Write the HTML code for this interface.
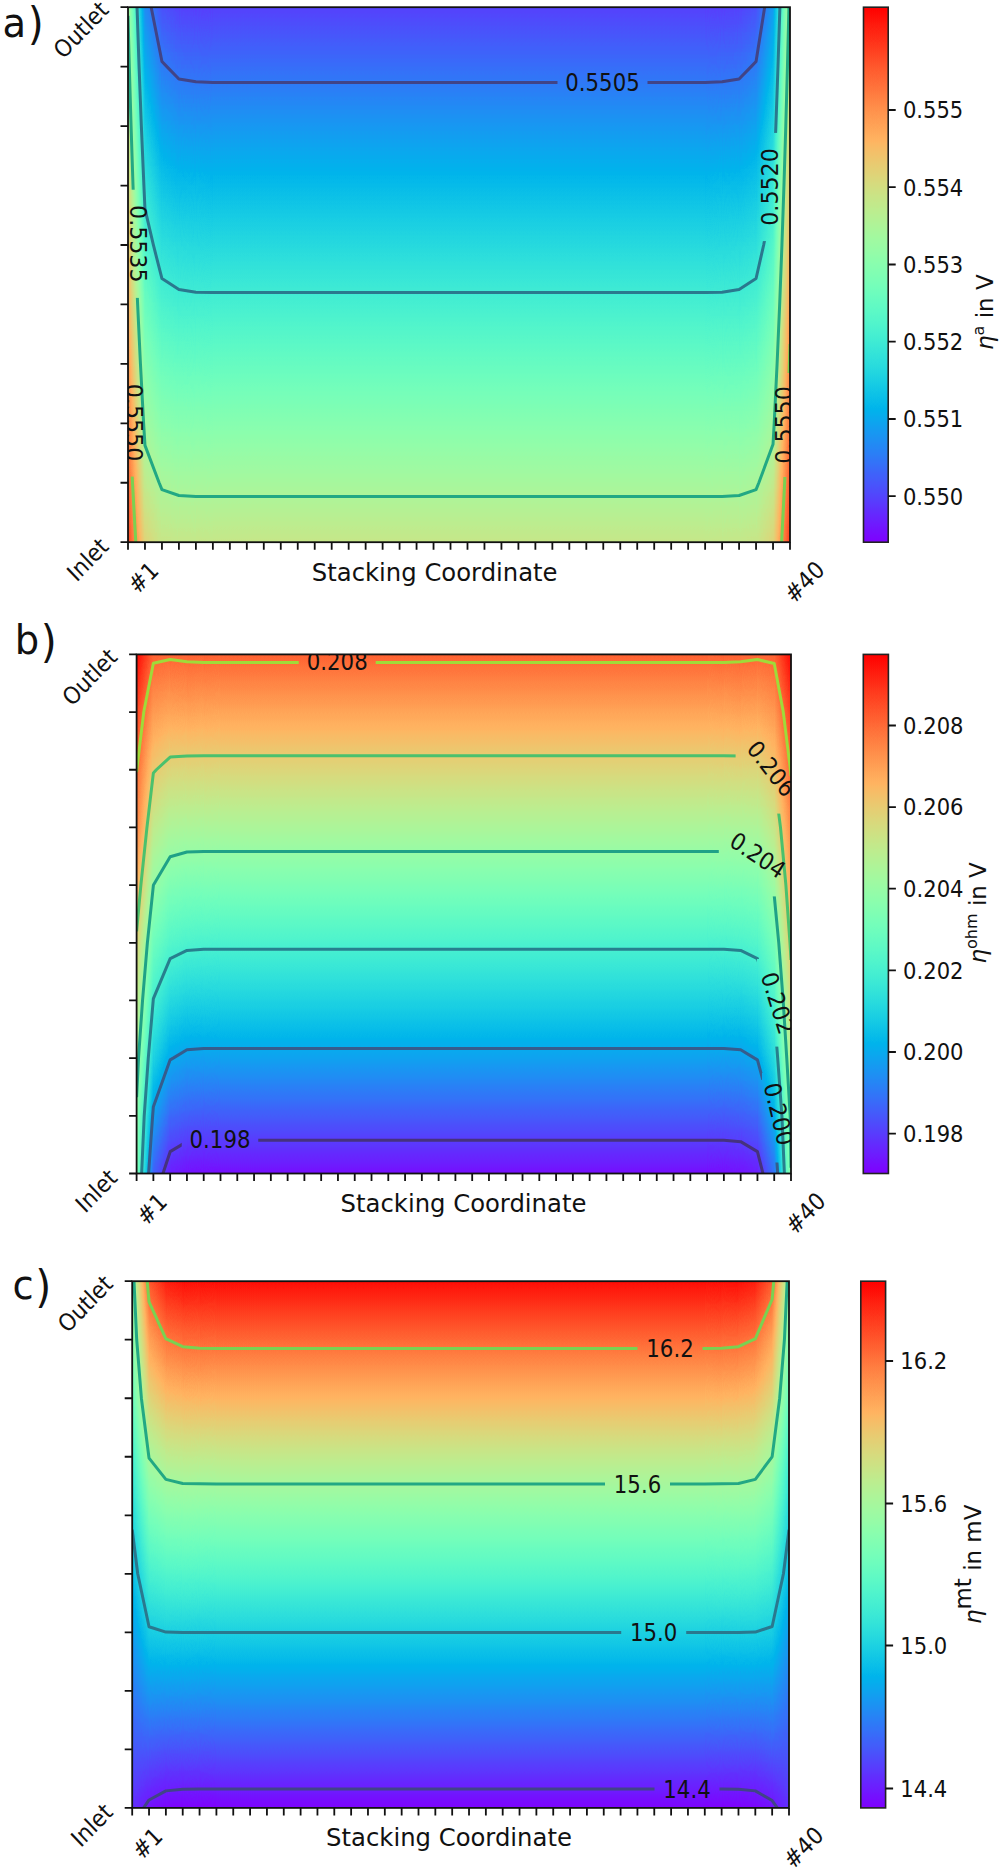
<!DOCTYPE html><html><head><meta charset="utf-8"><title>Overpotential maps</title>
<style>html,body{margin:0;padding:0;background:#fff}svg{display:block}text{font-family:"DejaVu Sans","Liberation Sans",sans-serif;fill:#111}</style></head><body>
<svg width="1000" height="1870" viewBox="0 0 1000 1870">
<defs>
<filter id="rb" filterUnits="userSpaceOnUse" x="0" y="0" width="1000" height="1870" color-interpolation-filters="sRGB"><feComponentTransfer><feFuncR type="table" tableValues="0.5000 0.4688 0.4375 0.4062 0.3750 0.3438 0.3125 0.2812 0.2500 0.2188 0.1875 0.1562 0.1250 0.0938 0.0625 0.0312 0.0000 0.0312 0.0625 0.0938 0.1250 0.1562 0.1875 0.2188 0.2500 0.2812 0.3125 0.3438 0.3750 0.4062 0.4375 0.4688 0.5000 0.5312 0.5625 0.5938 0.6250 0.6562 0.6875 0.7188 0.7500 0.7812 0.8125 0.8438 0.8750 0.9062 0.9375 0.9688 1.0000 1.0000 1.0000 1.0000 1.0000 1.0000 1.0000 1.0000 1.0000 1.0000 1.0000 1.0000 1.0000 1.0000 1.0000 1.0000 1.0000"/><feFuncG type="table" tableValues="0.0000 0.0491 0.0980 0.1467 0.1951 0.2430 0.2903 0.3369 0.3827 0.4276 0.4714 0.5141 0.5556 0.5957 0.6344 0.6716 0.7071 0.7410 0.7730 0.8032 0.8315 0.8577 0.8819 0.9040 0.9239 0.9415 0.9569 0.9700 0.9808 0.9892 0.9952 0.9988 1.0000 0.9988 0.9952 0.9892 0.9808 0.9700 0.9569 0.9415 0.9239 0.9040 0.8819 0.8577 0.8315 0.8032 0.7730 0.7410 0.7071 0.6716 0.6344 0.5957 0.5556 0.5141 0.4714 0.4276 0.3827 0.3369 0.2903 0.2430 0.1951 0.1467 0.0980 0.0491 0.0000"/><feFuncB type="table" tableValues="1.0000 0.9997 0.9988 0.9973 0.9952 0.9925 0.9892 0.9853 0.9808 0.9757 0.9700 0.9638 0.9569 0.9495 0.9415 0.9330 0.9239 0.9142 0.9040 0.8932 0.8819 0.8701 0.8577 0.8449 0.8315 0.8176 0.8032 0.7883 0.7730 0.7572 0.7410 0.7242 0.7071 0.6895 0.6716 0.6532 0.6344 0.6152 0.5957 0.5758 0.5556 0.5350 0.5141 0.4929 0.4714 0.4496 0.4276 0.4052 0.3827 0.3599 0.3369 0.3137 0.2903 0.2667 0.2430 0.2191 0.1951 0.1710 0.1467 0.1224 0.0980 0.0736 0.0491 0.0245 0.0000"/></feComponentTransfer></filter>
<linearGradient id="cbg" x1="0" y1="0" x2="0" y2="1"><stop offset="0" stop-color="#fff"/><stop offset="1" stop-color="#000"/></linearGradient>
<linearGradient id="rampL" x1="0" y1="0" x2="1" y2="0"><stop offset="0" stop-color="#fff" stop-opacity="1"/><stop offset="1" stop-color="#fff" stop-opacity="0"/></linearGradient>
<linearGradient id="ac" x1="0" y1="0" x2="0" y2="1"><stop offset="0%" stop-color="#151515"/><stop offset="11.11%" stop-color="#242424"/><stop offset="22.22%" stop-color="#343434"/><stop offset="33.33%" stop-color="#434343"/><stop offset="44.44%" stop-color="#535353"/><stop offset="55.56%" stop-color="#636363"/><stop offset="66.67%" stop-color="#737373"/><stop offset="77.78%" stop-color="#838383"/><stop offset="88.89%" stop-color="#939393"/><stop offset="100%" stop-color="#a3a3a3"/></linearGradient>
<linearGradient id="al4" x1="0" y1="0" x2="0" y2="1"><stop offset="0%" stop-color="#151515"/><stop offset="11.11%" stop-color="#242424"/><stop offset="22.22%" stop-color="#343434"/><stop offset="33.33%" stop-color="#444444"/><stop offset="44.44%" stop-color="#535353"/><stop offset="55.56%" stop-color="#636363"/><stop offset="66.67%" stop-color="#737373"/><stop offset="77.78%" stop-color="#838383"/><stop offset="88.89%" stop-color="#939393"/><stop offset="100%" stop-color="#a3a3a3"/></linearGradient>
<linearGradient id="aml4g" gradientUnits="userSpaceOnUse" x1="195.9" y1="0" x2="212.87" y2="0"><stop offset="0" stop-color="#fff" stop-opacity="1"/><stop offset="1" stop-color="#fff" stop-opacity="0"/></linearGradient>
<mask id="aml4" maskUnits="userSpaceOnUse" x="127" y="6.2" width="86.87" height="537"><rect x="127" y="6.2" width="86.87" height="537" fill="url(#aml4g)"/></mask>
<linearGradient id="al3" x1="0" y1="0" x2="0" y2="1"><stop offset="0%" stop-color="#161616"/><stop offset="11.11%" stop-color="#252525"/><stop offset="22.22%" stop-color="#353535"/><stop offset="33.33%" stop-color="#444444"/><stop offset="44.44%" stop-color="#545454"/><stop offset="55.56%" stop-color="#636363"/><stop offset="66.67%" stop-color="#737373"/><stop offset="77.78%" stop-color="#838383"/><stop offset="88.89%" stop-color="#939393"/><stop offset="100%" stop-color="#a3a3a3"/></linearGradient>
<linearGradient id="aml3g" gradientUnits="userSpaceOnUse" x1="178.92" y1="0" x2="195.9" y2="0"><stop offset="0" stop-color="#fff" stop-opacity="1"/><stop offset="1" stop-color="#fff" stop-opacity="0"/></linearGradient>
<mask id="aml3" maskUnits="userSpaceOnUse" x="127" y="6.2" width="69.9" height="537"><rect x="127" y="6.2" width="69.9" height="537" fill="url(#aml3g)"/></mask>
<linearGradient id="al2" x1="0" y1="0" x2="0" y2="1"><stop offset="0%" stop-color="#1b1b1b"/><stop offset="11.11%" stop-color="#2a2a2a"/><stop offset="22.22%" stop-color="#393939"/><stop offset="33.33%" stop-color="#484848"/><stop offset="44.44%" stop-color="#575757"/><stop offset="55.56%" stop-color="#666666"/><stop offset="66.67%" stop-color="#767676"/><stop offset="77.78%" stop-color="#858585"/><stop offset="88.89%" stop-color="#959595"/><stop offset="100%" stop-color="#a4a4a4"/></linearGradient>
<linearGradient id="aml2g" gradientUnits="userSpaceOnUse" x1="161.95" y1="0" x2="178.92" y2="0"><stop offset="0" stop-color="#fff" stop-opacity="1"/><stop offset="1" stop-color="#fff" stop-opacity="0"/></linearGradient>
<mask id="aml2" maskUnits="userSpaceOnUse" x="127" y="6.2" width="52.92" height="537"><rect x="127" y="6.2" width="52.92" height="537" fill="url(#aml2g)"/></mask>
<linearGradient id="al1" x1="0" y1="0" x2="0" y2="1"><stop offset="0%" stop-color="#303030"/><stop offset="11.11%" stop-color="#3e3e3e"/><stop offset="22.22%" stop-color="#4c4c4c"/><stop offset="33.33%" stop-color="#5a5a5a"/><stop offset="44.44%" stop-color="#686868"/><stop offset="55.56%" stop-color="#767676"/><stop offset="66.67%" stop-color="#838383"/><stop offset="77.78%" stop-color="#919191"/><stop offset="88.89%" stop-color="#a0a0a0"/><stop offset="100%" stop-color="#afafaf"/></linearGradient>
<linearGradient id="aml1g" gradientUnits="userSpaceOnUse" x1="144.97" y1="0" x2="161.95" y2="0"><stop offset="0" stop-color="#fff" stop-opacity="1"/><stop offset="1" stop-color="#fff" stop-opacity="0"/></linearGradient>
<mask id="aml1" maskUnits="userSpaceOnUse" x="127" y="6.2" width="35.95" height="537"><rect x="127" y="6.2" width="35.95" height="537" fill="url(#aml1g)"/></mask>
<linearGradient id="al0" x1="0" y1="0" x2="0" y2="1"><stop offset="0%" stop-color="#959595"/><stop offset="11.11%" stop-color="#9e9e9e"/><stop offset="22.22%" stop-color="#a7a7a7"/><stop offset="33.33%" stop-color="#b0b0b0"/><stop offset="44.44%" stop-color="#b9b9b9"/><stop offset="55.56%" stop-color="#c2c2c2"/><stop offset="66.67%" stop-color="#cbcbcb"/><stop offset="77.78%" stop-color="#d5d5d5"/><stop offset="88.89%" stop-color="#dedede"/><stop offset="100%" stop-color="#e8e8e8"/></linearGradient>
<linearGradient id="aml0g" gradientUnits="userSpaceOnUse" x1="128" y1="0" x2="144.97" y2="0"><stop offset="0" stop-color="#fff" stop-opacity="1"/><stop offset="1" stop-color="#fff" stop-opacity="0"/></linearGradient>
<mask id="aml0" maskUnits="userSpaceOnUse" x="127" y="6.2" width="18.97" height="537"><rect x="127" y="6.2" width="18.97" height="537" fill="url(#aml0g)"/></mask>
<linearGradient id="ar4" x1="0" y1="0" x2="0" y2="1"><stop offset="0%" stop-color="#151515"/><stop offset="11.11%" stop-color="#242424"/><stop offset="22.22%" stop-color="#343434"/><stop offset="33.33%" stop-color="#444444"/><stop offset="44.44%" stop-color="#535353"/><stop offset="55.56%" stop-color="#636363"/><stop offset="66.67%" stop-color="#737373"/><stop offset="77.78%" stop-color="#838383"/><stop offset="88.89%" stop-color="#939393"/><stop offset="100%" stop-color="#a3a3a3"/></linearGradient>
<linearGradient id="amr4g" gradientUnits="userSpaceOnUse" x1="722.1" y1="0" x2="705.13" y2="0"><stop offset="0" stop-color="#fff" stop-opacity="1"/><stop offset="1" stop-color="#fff" stop-opacity="0"/></linearGradient>
<mask id="amr4" maskUnits="userSpaceOnUse" x="704.13" y="6.2" width="86.87" height="537"><rect x="704.13" y="6.2" width="86.87" height="537" fill="url(#amr4g)"/></mask>
<linearGradient id="ar3" x1="0" y1="0" x2="0" y2="1"><stop offset="0%" stop-color="#161616"/><stop offset="11.11%" stop-color="#252525"/><stop offset="22.22%" stop-color="#353535"/><stop offset="33.33%" stop-color="#444444"/><stop offset="44.44%" stop-color="#545454"/><stop offset="55.56%" stop-color="#636363"/><stop offset="66.67%" stop-color="#737373"/><stop offset="77.78%" stop-color="#838383"/><stop offset="88.89%" stop-color="#939393"/><stop offset="100%" stop-color="#a3a3a3"/></linearGradient>
<linearGradient id="amr3g" gradientUnits="userSpaceOnUse" x1="739.08" y1="0" x2="722.1" y2="0"><stop offset="0" stop-color="#fff" stop-opacity="1"/><stop offset="1" stop-color="#fff" stop-opacity="0"/></linearGradient>
<mask id="amr3" maskUnits="userSpaceOnUse" x="721.1" y="6.2" width="69.9" height="537"><rect x="721.1" y="6.2" width="69.9" height="537" fill="url(#amr3g)"/></mask>
<linearGradient id="ar2" x1="0" y1="0" x2="0" y2="1"><stop offset="0%" stop-color="#1b1b1b"/><stop offset="11.11%" stop-color="#2a2a2a"/><stop offset="22.22%" stop-color="#393939"/><stop offset="33.33%" stop-color="#484848"/><stop offset="44.44%" stop-color="#575757"/><stop offset="55.56%" stop-color="#666666"/><stop offset="66.67%" stop-color="#767676"/><stop offset="77.78%" stop-color="#858585"/><stop offset="88.89%" stop-color="#959595"/><stop offset="100%" stop-color="#a4a4a4"/></linearGradient>
<linearGradient id="amr2g" gradientUnits="userSpaceOnUse" x1="756.05" y1="0" x2="739.08" y2="0"><stop offset="0" stop-color="#fff" stop-opacity="1"/><stop offset="1" stop-color="#fff" stop-opacity="0"/></linearGradient>
<mask id="amr2" maskUnits="userSpaceOnUse" x="738.08" y="6.2" width="52.92" height="537"><rect x="738.08" y="6.2" width="52.92" height="537" fill="url(#amr2g)"/></mask>
<linearGradient id="ar1" x1="0" y1="0" x2="0" y2="1"><stop offset="0%" stop-color="#363636"/><stop offset="11.11%" stop-color="#434343"/><stop offset="22.22%" stop-color="#505050"/><stop offset="33.33%" stop-color="#5d5d5d"/><stop offset="44.44%" stop-color="#6a6a6a"/><stop offset="55.56%" stop-color="#777777"/><stop offset="66.67%" stop-color="#848484"/><stop offset="77.78%" stop-color="#929292"/><stop offset="88.89%" stop-color="#a0a0a0"/><stop offset="100%" stop-color="#afafaf"/></linearGradient>
<linearGradient id="amr1g" gradientUnits="userSpaceOnUse" x1="773.03" y1="0" x2="756.05" y2="0"><stop offset="0" stop-color="#fff" stop-opacity="1"/><stop offset="1" stop-color="#fff" stop-opacity="0"/></linearGradient>
<mask id="amr1" maskUnits="userSpaceOnUse" x="755.05" y="6.2" width="35.95" height="537"><rect x="755.05" y="6.2" width="35.95" height="537" fill="url(#amr1g)"/></mask>
<linearGradient id="ar0" x1="0" y1="0" x2="0" y2="1"><stop offset="0%" stop-color="#9d9d9d"/><stop offset="11.11%" stop-color="#a6a6a6"/><stop offset="22.22%" stop-color="#aeaeae"/><stop offset="33.33%" stop-color="#b7b7b7"/><stop offset="44.44%" stop-color="#bfbfbf"/><stop offset="55.56%" stop-color="#c8c8c8"/><stop offset="66.67%" stop-color="#d1d1d1"/><stop offset="77.78%" stop-color="#dadada"/><stop offset="88.89%" stop-color="#e3e3e3"/><stop offset="100%" stop-color="#ececec"/></linearGradient>
<linearGradient id="amr0g" gradientUnits="userSpaceOnUse" x1="790" y1="0" x2="773.03" y2="0"><stop offset="0" stop-color="#fff" stop-opacity="1"/><stop offset="1" stop-color="#fff" stop-opacity="0"/></linearGradient>
<mask id="amr0" maskUnits="userSpaceOnUse" x="772.03" y="6.2" width="18.97" height="537"><rect x="772.03" y="6.2" width="18.97" height="537" fill="url(#amr0g)"/></mask>
<clipPath id="acp"><rect x="128" y="7.2" width="662" height="535"/></clipPath>
<mask id="alm0" maskUnits="userSpaceOnUse" x="123" y="2.2" width="672" height="545"><rect x="123" y="2.2" width="672" height="545" fill="#fff"/><rect x="-45" y="-12" width="90" height="24" transform="translate(602.5 82.5) scale(1 1.04) rotate(0)" fill="#000"/></mask>
<mask id="alm1" maskUnits="userSpaceOnUse" x="123" y="2.2" width="672" height="545"><rect x="123" y="2.2" width="672" height="545" fill="#fff"/><rect x="-52" y="-12" width="104" height="24" transform="translate(770 187) scale(1 1.04) rotate(-90)" fill="#000"/></mask>
<mask id="alm2" maskUnits="userSpaceOnUse" x="123" y="2.2" width="672" height="545"><rect x="123" y="2.2" width="672" height="545" fill="#fff"/><rect x="-52" y="-12" width="104" height="24" transform="translate(138.5 243.8) scale(1 1.04) rotate(90)" fill="#000"/></mask>
<mask id="alm3" maskUnits="userSpaceOnUse" x="123" y="2.2" width="672" height="545"><rect x="123" y="2.2" width="672" height="545" fill="#fff"/><rect x="-52" y="-12" width="104" height="24" transform="translate(134.5 422.5) scale(1 1.04) rotate(90)" fill="#000"/><rect x="-50" y="-12" width="100" height="24" transform="translate(783.6 425) scale(1 1.04) rotate(-90)" fill="#000"/></mask>
<linearGradient id="bc" x1="0" y1="0" x2="0" y2="1"><stop offset="0%" stop-color="#dfdfdf"/><stop offset="11.11%" stop-color="#c6c6c6"/><stop offset="22.22%" stop-color="#aeaeae"/><stop offset="33.33%" stop-color="#969696"/><stop offset="44.44%" stop-color="#7e7e7e"/><stop offset="55.56%" stop-color="#666666"/><stop offset="66.67%" stop-color="#4f4f4f"/><stop offset="77.78%" stop-color="#383838"/><stop offset="88.89%" stop-color="#1e1e1e"/><stop offset="100%" stop-color="#050505"/></linearGradient>
<linearGradient id="bl4" x1="0" y1="0" x2="0" y2="1"><stop offset="0%" stop-color="#dfdfdf"/><stop offset="11.11%" stop-color="#c6c6c6"/><stop offset="22.22%" stop-color="#aeaeae"/><stop offset="33.33%" stop-color="#969696"/><stop offset="44.44%" stop-color="#7e7e7e"/><stop offset="55.56%" stop-color="#666666"/><stop offset="66.67%" stop-color="#4f4f4f"/><stop offset="77.78%" stop-color="#383838"/><stop offset="88.89%" stop-color="#1e1e1e"/><stop offset="100%" stop-color="#050505"/></linearGradient>
<linearGradient id="bml4g" gradientUnits="userSpaceOnUse" x1="203.72" y1="0" x2="220.5" y2="0"><stop offset="0" stop-color="#fff" stop-opacity="1"/><stop offset="1" stop-color="#fff" stop-opacity="0"/></linearGradient>
<mask id="bml4" maskUnits="userSpaceOnUse" x="135.6" y="653.4" width="85.9" height="521.1"><rect x="135.6" y="653.4" width="85.9" height="521.1" fill="url(#bml4g)"/></mask>
<linearGradient id="bl3" x1="0" y1="0" x2="0" y2="1"><stop offset="0%" stop-color="#dfdfdf"/><stop offset="11.11%" stop-color="#c7c7c7"/><stop offset="22.22%" stop-color="#aeaeae"/><stop offset="33.33%" stop-color="#969696"/><stop offset="44.44%" stop-color="#7e7e7e"/><stop offset="55.56%" stop-color="#676767"/><stop offset="66.67%" stop-color="#4f4f4f"/><stop offset="77.78%" stop-color="#383838"/><stop offset="88.89%" stop-color="#1f1f1f"/><stop offset="100%" stop-color="#060606"/></linearGradient>
<linearGradient id="bml3g" gradientUnits="userSpaceOnUse" x1="186.94" y1="0" x2="203.72" y2="0"><stop offset="0" stop-color="#fff" stop-opacity="1"/><stop offset="1" stop-color="#fff" stop-opacity="0"/></linearGradient>
<mask id="bml3" maskUnits="userSpaceOnUse" x="135.6" y="653.4" width="69.12" height="521.1"><rect x="135.6" y="653.4" width="69.12" height="521.1" fill="url(#bml3g)"/></mask>
<linearGradient id="bl2" x1="0" y1="0" x2="0" y2="1"><stop offset="0%" stop-color="#dedede"/><stop offset="11.11%" stop-color="#c6c6c6"/><stop offset="22.22%" stop-color="#aeaeae"/><stop offset="33.33%" stop-color="#979797"/><stop offset="44.44%" stop-color="#808080"/><stop offset="55.56%" stop-color="#6a6a6a"/><stop offset="66.67%" stop-color="#535353"/><stop offset="77.78%" stop-color="#3c3c3c"/><stop offset="88.89%" stop-color="#232323"/><stop offset="100%" stop-color="#0a0a0a"/></linearGradient>
<linearGradient id="bml2g" gradientUnits="userSpaceOnUse" x1="170.16" y1="0" x2="186.94" y2="0"><stop offset="0" stop-color="#fff" stop-opacity="1"/><stop offset="1" stop-color="#fff" stop-opacity="0"/></linearGradient>
<mask id="bml2" maskUnits="userSpaceOnUse" x="135.6" y="653.4" width="52.34" height="521.1"><rect x="135.6" y="653.4" width="52.34" height="521.1" fill="url(#bml2g)"/></mask>
<linearGradient id="bl1" x1="0" y1="0" x2="0" y2="1"><stop offset="0%" stop-color="#dfdfdf"/><stop offset="11.11%" stop-color="#cacaca"/><stop offset="22.22%" stop-color="#b5b5b5"/><stop offset="33.33%" stop-color="#a0a0a0"/><stop offset="44.44%" stop-color="#8c8c8c"/><stop offset="55.56%" stop-color="#777777"/><stop offset="66.67%" stop-color="#636363"/><stop offset="77.78%" stop-color="#4f4f4f"/><stop offset="88.89%" stop-color="#383838"/><stop offset="100%" stop-color="#202020"/></linearGradient>
<linearGradient id="bml1g" gradientUnits="userSpaceOnUse" x1="153.38" y1="0" x2="170.16" y2="0"><stop offset="0" stop-color="#fff" stop-opacity="1"/><stop offset="1" stop-color="#fff" stop-opacity="0"/></linearGradient>
<mask id="bml1" maskUnits="userSpaceOnUse" x="135.6" y="653.4" width="35.56" height="521.1"><rect x="135.6" y="653.4" width="35.56" height="521.1" fill="url(#bml1g)"/></mask>
<linearGradient id="bl0" x1="0" y1="0" x2="0" y2="1"><stop offset="0%" stop-color="#fdfdfd"/><stop offset="11.11%" stop-color="#e9e9e9"/><stop offset="22.22%" stop-color="#dcdcdc"/><stop offset="33.33%" stop-color="#d3d3d3"/><stop offset="44.44%" stop-color="#c1c1c1"/><stop offset="55.56%" stop-color="#b0b0b0"/><stop offset="66.67%" stop-color="#a2a2a2"/><stop offset="77.78%" stop-color="#949494"/><stop offset="88.89%" stop-color="#888888"/><stop offset="100%" stop-color="#818181"/></linearGradient>
<linearGradient id="bml0g" gradientUnits="userSpaceOnUse" x1="136.6" y1="0" x2="153.38" y2="0"><stop offset="0" stop-color="#fff" stop-opacity="1"/><stop offset="1" stop-color="#fff" stop-opacity="0"/></linearGradient>
<mask id="bml0" maskUnits="userSpaceOnUse" x="135.6" y="653.4" width="18.78" height="521.1"><rect x="135.6" y="653.4" width="18.78" height="521.1" fill="url(#bml0g)"/></mask>
<linearGradient id="br4" x1="0" y1="0" x2="0" y2="1"><stop offset="0%" stop-color="#dfdfdf"/><stop offset="11.11%" stop-color="#c6c6c6"/><stop offset="22.22%" stop-color="#aeaeae"/><stop offset="33.33%" stop-color="#969696"/><stop offset="44.44%" stop-color="#7e7e7e"/><stop offset="55.56%" stop-color="#666666"/><stop offset="66.67%" stop-color="#4f4f4f"/><stop offset="77.78%" stop-color="#383838"/><stop offset="88.89%" stop-color="#1e1e1e"/><stop offset="100%" stop-color="#050505"/></linearGradient>
<linearGradient id="bmr4g" gradientUnits="userSpaceOnUse" x1="723.88" y1="0" x2="707.1" y2="0"><stop offset="0" stop-color="#fff" stop-opacity="1"/><stop offset="1" stop-color="#fff" stop-opacity="0"/></linearGradient>
<mask id="bmr4" maskUnits="userSpaceOnUse" x="706.1" y="653.4" width="85.9" height="521.1"><rect x="706.1" y="653.4" width="85.9" height="521.1" fill="url(#bmr4g)"/></mask>
<linearGradient id="br3" x1="0" y1="0" x2="0" y2="1"><stop offset="0%" stop-color="#dfdfdf"/><stop offset="11.11%" stop-color="#c7c7c7"/><stop offset="22.22%" stop-color="#aeaeae"/><stop offset="33.33%" stop-color="#969696"/><stop offset="44.44%" stop-color="#7e7e7e"/><stop offset="55.56%" stop-color="#676767"/><stop offset="66.67%" stop-color="#4f4f4f"/><stop offset="77.78%" stop-color="#383838"/><stop offset="88.89%" stop-color="#1f1f1f"/><stop offset="100%" stop-color="#060606"/></linearGradient>
<linearGradient id="bmr3g" gradientUnits="userSpaceOnUse" x1="740.66" y1="0" x2="723.88" y2="0"><stop offset="0" stop-color="#fff" stop-opacity="1"/><stop offset="1" stop-color="#fff" stop-opacity="0"/></linearGradient>
<mask id="bmr3" maskUnits="userSpaceOnUse" x="722.88" y="653.4" width="69.12" height="521.1"><rect x="722.88" y="653.4" width="69.12" height="521.1" fill="url(#bmr3g)"/></mask>
<linearGradient id="br2" x1="0" y1="0" x2="0" y2="1"><stop offset="0%" stop-color="#dedede"/><stop offset="11.11%" stop-color="#c6c6c6"/><stop offset="22.22%" stop-color="#aeaeae"/><stop offset="33.33%" stop-color="#979797"/><stop offset="44.44%" stop-color="#808080"/><stop offset="55.56%" stop-color="#6a6a6a"/><stop offset="66.67%" stop-color="#535353"/><stop offset="77.78%" stop-color="#3c3c3c"/><stop offset="88.89%" stop-color="#232323"/><stop offset="100%" stop-color="#0a0a0a"/></linearGradient>
<linearGradient id="bmr2g" gradientUnits="userSpaceOnUse" x1="757.44" y1="0" x2="740.66" y2="0"><stop offset="0" stop-color="#fff" stop-opacity="1"/><stop offset="1" stop-color="#fff" stop-opacity="0"/></linearGradient>
<mask id="bmr2" maskUnits="userSpaceOnUse" x="739.66" y="653.4" width="52.34" height="521.1"><rect x="739.66" y="653.4" width="52.34" height="521.1" fill="url(#bmr2g)"/></mask>
<linearGradient id="br1" x1="0" y1="0" x2="0" y2="1"><stop offset="0%" stop-color="#dfdfdf"/><stop offset="11.11%" stop-color="#cbcbcb"/><stop offset="22.22%" stop-color="#b7b7b7"/><stop offset="33.33%" stop-color="#a3a3a3"/><stop offset="44.44%" stop-color="#8f8f8f"/><stop offset="55.56%" stop-color="#7b7b7b"/><stop offset="66.67%" stop-color="#686868"/><stop offset="77.78%" stop-color="#545454"/><stop offset="88.89%" stop-color="#3e3e3e"/><stop offset="100%" stop-color="#272727"/></linearGradient>
<linearGradient id="bmr1g" gradientUnits="userSpaceOnUse" x1="774.22" y1="0" x2="757.44" y2="0"><stop offset="0" stop-color="#fff" stop-opacity="1"/><stop offset="1" stop-color="#fff" stop-opacity="0"/></linearGradient>
<mask id="bmr1" maskUnits="userSpaceOnUse" x="756.44" y="653.4" width="35.56" height="521.1"><rect x="756.44" y="653.4" width="35.56" height="521.1" fill="url(#bmr1g)"/></mask>
<linearGradient id="br0" x1="0" y1="0" x2="0" y2="1"><stop offset="0%" stop-color="#fdfdfd"/><stop offset="11.11%" stop-color="#ebebeb"/><stop offset="22.22%" stop-color="#dddddd"/><stop offset="33.33%" stop-color="#d0d0d0"/><stop offset="44.44%" stop-color="#c4c4c4"/><stop offset="55.56%" stop-color="#b7b7b7"/><stop offset="66.67%" stop-color="#ababab"/><stop offset="77.78%" stop-color="#9e9e9e"/><stop offset="88.89%" stop-color="#909090"/><stop offset="100%" stop-color="#8b8b8b"/></linearGradient>
<linearGradient id="bmr0g" gradientUnits="userSpaceOnUse" x1="791" y1="0" x2="774.22" y2="0"><stop offset="0" stop-color="#fff" stop-opacity="1"/><stop offset="1" stop-color="#fff" stop-opacity="0"/></linearGradient>
<mask id="bmr0" maskUnits="userSpaceOnUse" x="773.22" y="653.4" width="18.78" height="521.1"><rect x="773.22" y="653.4" width="18.78" height="521.1" fill="url(#bmr0g)"/></mask>
<clipPath id="bcp"><rect x="136.6" y="654.4" width="654.4" height="519.1"/></clipPath>
<mask id="blm0" maskUnits="userSpaceOnUse" x="131.6" y="649.4" width="664.4" height="529.1"><rect x="131.6" y="649.4" width="664.4" height="529.1" fill="#fff"/><rect x="-38.25" y="-12" width="76.5" height="24" transform="translate(220 1139) scale(1 1.04) rotate(0)" fill="#000"/></mask>
<mask id="blm1" maskUnits="userSpaceOnUse" x="131.6" y="649.4" width="664.4" height="529.1"><rect x="131.6" y="649.4" width="664.4" height="529.1" fill="#fff"/><rect x="-36" y="-12" width="72" height="24" transform="translate(779 1114) scale(1 1.04) rotate(76)" fill="#000"/><rect x="762" y="1073" width="31" height="89.5" fill="#000"/></mask>
<mask id="blm2" maskUnits="userSpaceOnUse" x="131.6" y="649.4" width="664.4" height="529.1"><rect x="131.6" y="649.4" width="664.4" height="529.1" fill="#fff"/><rect x="-36" y="-12" width="72" height="24" transform="translate(778 1003) scale(1 1.04) rotate(72)" fill="#000"/><rect x="757" y="959" width="36" height="87.6" fill="#000"/></mask>
<mask id="blm3" maskUnits="userSpaceOnUse" x="131.6" y="649.4" width="664.4" height="529.1"><rect x="131.6" y="649.4" width="664.4" height="529.1" fill="#fff"/><rect x="-36" y="-12" width="72" height="24" transform="translate(758 855) scale(1 1.04) rotate(33)" fill="#000"/><rect x="718.8" y="835" width="74.2" height="61.4" fill="#000"/></mask>
<mask id="blm4" maskUnits="userSpaceOnUse" x="131.6" y="649.4" width="664.4" height="529.1"><rect x="131.6" y="649.4" width="664.4" height="529.1" fill="#fff"/><rect x="-35" y="-12" width="70" height="24" transform="translate(771.5 768.5) scale(1 1.04) rotate(51)" fill="#000"/><rect x="735.6" y="745" width="57.4" height="68.6" fill="#000"/></mask>
<mask id="blm5" maskUnits="userSpaceOnUse" x="131.6" y="649.4" width="664.4" height="529.1"><rect x="131.6" y="649.4" width="664.4" height="529.1" fill="#fff"/><rect x="-38.5" y="-12" width="77" height="24" transform="translate(337.2 661) scale(1 1.04) rotate(0)" fill="#000"/></mask>
<linearGradient id="cc" x1="0" y1="0" x2="0" y2="1"><stop offset="0%" stop-color="#fbfbfb"/><stop offset="11.11%" stop-color="#dddddd"/><stop offset="22.22%" stop-color="#bfbfbf"/><stop offset="33.33%" stop-color="#a1a1a1"/><stop offset="44.44%" stop-color="#848484"/><stop offset="55.56%" stop-color="#6a6a6a"/><stop offset="66.67%" stop-color="#4e4e4e"/><stop offset="77.78%" stop-color="#353535"/><stop offset="88.89%" stop-color="#1b1b1b"/><stop offset="100%" stop-color="#010101"/></linearGradient>
<linearGradient id="cl4" x1="0" y1="0" x2="0" y2="1"><stop offset="0%" stop-color="#fafafa"/><stop offset="11.11%" stop-color="#dddddd"/><stop offset="22.22%" stop-color="#bfbfbf"/><stop offset="33.33%" stop-color="#a0a0a0"/><stop offset="44.44%" stop-color="#848484"/><stop offset="55.56%" stop-color="#6a6a6a"/><stop offset="66.67%" stop-color="#4e4e4e"/><stop offset="77.78%" stop-color="#353535"/><stop offset="88.89%" stop-color="#1b1b1b"/><stop offset="100%" stop-color="#010101"/></linearGradient>
<linearGradient id="cml4g" gradientUnits="userSpaceOnUse" x1="199.56" y1="0" x2="216.41" y2="0"><stop offset="0" stop-color="#fff" stop-opacity="1"/><stop offset="1" stop-color="#fff" stop-opacity="0"/></linearGradient>
<mask id="cml4" maskUnits="userSpaceOnUse" x="131.2" y="1280.2" width="86.21" height="528.7"><rect x="131.2" y="1280.2" width="86.21" height="528.7" fill="url(#cml4g)"/></mask>
<linearGradient id="cl3" x1="0" y1="0" x2="0" y2="1"><stop offset="0%" stop-color="#fafafa"/><stop offset="11.11%" stop-color="#dcdcdc"/><stop offset="22.22%" stop-color="#bebebe"/><stop offset="33.33%" stop-color="#a0a0a0"/><stop offset="44.44%" stop-color="#848484"/><stop offset="55.56%" stop-color="#6a6a6a"/><stop offset="66.67%" stop-color="#4e4e4e"/><stop offset="77.78%" stop-color="#353535"/><stop offset="88.89%" stop-color="#1b1b1b"/><stop offset="100%" stop-color="#010101"/></linearGradient>
<linearGradient id="cml3g" gradientUnits="userSpaceOnUse" x1="182.72" y1="0" x2="199.56" y2="0"><stop offset="0" stop-color="#fff" stop-opacity="1"/><stop offset="1" stop-color="#fff" stop-opacity="0"/></linearGradient>
<mask id="cml3" maskUnits="userSpaceOnUse" x="131.2" y="1280.2" width="69.36" height="528.7"><rect x="131.2" y="1280.2" width="69.36" height="528.7" fill="url(#cml3g)"/></mask>
<linearGradient id="cl2" x1="0" y1="0" x2="0" y2="1"><stop offset="0%" stop-color="#f5f5f5"/><stop offset="11.11%" stop-color="#d8d8d8"/><stop offset="22.22%" stop-color="#bbbbbb"/><stop offset="33.33%" stop-color="#9e9e9e"/><stop offset="44.44%" stop-color="#838383"/><stop offset="55.56%" stop-color="#696969"/><stop offset="66.67%" stop-color="#4e4e4e"/><stop offset="77.78%" stop-color="#353535"/><stop offset="88.89%" stop-color="#1b1b1b"/><stop offset="100%" stop-color="#020202"/></linearGradient>
<linearGradient id="cml2g" gradientUnits="userSpaceOnUse" x1="165.88" y1="0" x2="182.72" y2="0"><stop offset="0" stop-color="#fff" stop-opacity="1"/><stop offset="1" stop-color="#fff" stop-opacity="0"/></linearGradient>
<mask id="cml2" maskUnits="userSpaceOnUse" x="131.2" y="1280.2" width="52.52" height="528.7"><rect x="131.2" y="1280.2" width="52.52" height="528.7" fill="url(#cml2g)"/></mask>
<linearGradient id="cl1" x1="0" y1="0" x2="0" y2="1"><stop offset="0%" stop-color="#e2e2e2"/><stop offset="11.11%" stop-color="#c7c7c7"/><stop offset="22.22%" stop-color="#aeaeae"/><stop offset="33.33%" stop-color="#949494"/><stop offset="44.44%" stop-color="#7b7b7b"/><stop offset="55.56%" stop-color="#646464"/><stop offset="66.67%" stop-color="#4c4c4c"/><stop offset="77.78%" stop-color="#353535"/><stop offset="88.89%" stop-color="#1d1d1d"/><stop offset="100%" stop-color="#060606"/></linearGradient>
<linearGradient id="cml1g" gradientUnits="userSpaceOnUse" x1="149.04" y1="0" x2="165.88" y2="0"><stop offset="0" stop-color="#fff" stop-opacity="1"/><stop offset="1" stop-color="#fff" stop-opacity="0"/></linearGradient>
<mask id="cml1" maskUnits="userSpaceOnUse" x="131.2" y="1280.2" width="35.68" height="528.7"><rect x="131.2" y="1280.2" width="35.68" height="528.7" fill="url(#cml1g)"/></mask>
<linearGradient id="cl0" x1="0" y1="0" x2="0" y2="1"><stop offset="0%" stop-color="#8a8a8a"/><stop offset="11.11%" stop-color="#818181"/><stop offset="22.22%" stop-color="#747474"/><stop offset="33.33%" stop-color="#626262"/><stop offset="44.44%" stop-color="#525252"/><stop offset="55.56%" stop-color="#444444"/><stop offset="66.67%" stop-color="#363636"/><stop offset="77.78%" stop-color="#292929"/><stop offset="88.89%" stop-color="#1d1d1d"/><stop offset="100%" stop-color="#101010"/></linearGradient>
<linearGradient id="cml0g" gradientUnits="userSpaceOnUse" x1="132.2" y1="0" x2="149.04" y2="0"><stop offset="0" stop-color="#fff" stop-opacity="1"/><stop offset="1" stop-color="#fff" stop-opacity="0"/></linearGradient>
<mask id="cml0" maskUnits="userSpaceOnUse" x="131.2" y="1280.2" width="18.84" height="528.7"><rect x="131.2" y="1280.2" width="18.84" height="528.7" fill="url(#cml0g)"/></mask>
<linearGradient id="cr4" x1="0" y1="0" x2="0" y2="1"><stop offset="0%" stop-color="#fafafa"/><stop offset="11.11%" stop-color="#dddddd"/><stop offset="22.22%" stop-color="#bfbfbf"/><stop offset="33.33%" stop-color="#a0a0a0"/><stop offset="44.44%" stop-color="#848484"/><stop offset="55.56%" stop-color="#6a6a6a"/><stop offset="66.67%" stop-color="#4e4e4e"/><stop offset="77.78%" stop-color="#353535"/><stop offset="88.89%" stop-color="#1b1b1b"/><stop offset="100%" stop-color="#010101"/></linearGradient>
<linearGradient id="cmr4g" gradientUnits="userSpaceOnUse" x1="721.64" y1="0" x2="704.79" y2="0"><stop offset="0" stop-color="#fff" stop-opacity="1"/><stop offset="1" stop-color="#fff" stop-opacity="0"/></linearGradient>
<mask id="cmr4" maskUnits="userSpaceOnUse" x="703.79" y="1280.2" width="86.21" height="528.7"><rect x="703.79" y="1280.2" width="86.21" height="528.7" fill="url(#cmr4g)"/></mask>
<linearGradient id="cr3" x1="0" y1="0" x2="0" y2="1"><stop offset="0%" stop-color="#fafafa"/><stop offset="11.11%" stop-color="#dcdcdc"/><stop offset="22.22%" stop-color="#bebebe"/><stop offset="33.33%" stop-color="#a0a0a0"/><stop offset="44.44%" stop-color="#848484"/><stop offset="55.56%" stop-color="#6a6a6a"/><stop offset="66.67%" stop-color="#4e4e4e"/><stop offset="77.78%" stop-color="#353535"/><stop offset="88.89%" stop-color="#1b1b1b"/><stop offset="100%" stop-color="#010101"/></linearGradient>
<linearGradient id="cmr3g" gradientUnits="userSpaceOnUse" x1="738.48" y1="0" x2="721.64" y2="0"><stop offset="0" stop-color="#fff" stop-opacity="1"/><stop offset="1" stop-color="#fff" stop-opacity="0"/></linearGradient>
<mask id="cmr3" maskUnits="userSpaceOnUse" x="720.64" y="1280.2" width="69.36" height="528.7"><rect x="720.64" y="1280.2" width="69.36" height="528.7" fill="url(#cmr3g)"/></mask>
<linearGradient id="cr2" x1="0" y1="0" x2="0" y2="1"><stop offset="0%" stop-color="#f5f5f5"/><stop offset="11.11%" stop-color="#d8d8d8"/><stop offset="22.22%" stop-color="#bbbbbb"/><stop offset="33.33%" stop-color="#9e9e9e"/><stop offset="44.44%" stop-color="#838383"/><stop offset="55.56%" stop-color="#696969"/><stop offset="66.67%" stop-color="#4e4e4e"/><stop offset="77.78%" stop-color="#353535"/><stop offset="88.89%" stop-color="#1b1b1b"/><stop offset="100%" stop-color="#020202"/></linearGradient>
<linearGradient id="cmr2g" gradientUnits="userSpaceOnUse" x1="755.32" y1="0" x2="738.48" y2="0"><stop offset="0" stop-color="#fff" stop-opacity="1"/><stop offset="1" stop-color="#fff" stop-opacity="0"/></linearGradient>
<mask id="cmr2" maskUnits="userSpaceOnUse" x="737.48" y="1280.2" width="52.52" height="528.7"><rect x="737.48" y="1280.2" width="52.52" height="528.7" fill="url(#cmr2g)"/></mask>
<linearGradient id="cr1" x1="0" y1="0" x2="0" y2="1"><stop offset="0%" stop-color="#e1e1e1"/><stop offset="11.11%" stop-color="#c5c5c5"/><stop offset="22.22%" stop-color="#adadad"/><stop offset="33.33%" stop-color="#939393"/><stop offset="44.44%" stop-color="#7b7b7b"/><stop offset="55.56%" stop-color="#646464"/><stop offset="66.67%" stop-color="#4c4c4c"/><stop offset="77.78%" stop-color="#353535"/><stop offset="88.89%" stop-color="#1e1e1e"/><stop offset="100%" stop-color="#060606"/></linearGradient>
<linearGradient id="cmr1g" gradientUnits="userSpaceOnUse" x1="772.16" y1="0" x2="755.32" y2="0"><stop offset="0" stop-color="#fff" stop-opacity="1"/><stop offset="1" stop-color="#fff" stop-opacity="0"/></linearGradient>
<mask id="cmr1" maskUnits="userSpaceOnUse" x="754.32" y="1280.2" width="35.68" height="528.7"><rect x="754.32" y="1280.2" width="35.68" height="528.7" fill="url(#cmr1g)"/></mask>
<linearGradient id="cr0" x1="0" y1="0" x2="0" y2="1"><stop offset="0%" stop-color="#8a8a8a"/><stop offset="11.11%" stop-color="#818181"/><stop offset="22.22%" stop-color="#747474"/><stop offset="33.33%" stop-color="#626262"/><stop offset="44.44%" stop-color="#525252"/><stop offset="55.56%" stop-color="#444444"/><stop offset="66.67%" stop-color="#363636"/><stop offset="77.78%" stop-color="#292929"/><stop offset="88.89%" stop-color="#1d1d1d"/><stop offset="100%" stop-color="#101010"/></linearGradient>
<linearGradient id="cmr0g" gradientUnits="userSpaceOnUse" x1="789" y1="0" x2="772.16" y2="0"><stop offset="0" stop-color="#fff" stop-opacity="1"/><stop offset="1" stop-color="#fff" stop-opacity="0"/></linearGradient>
<mask id="cmr0" maskUnits="userSpaceOnUse" x="771.16" y="1280.2" width="18.84" height="528.7"><rect x="771.16" y="1280.2" width="18.84" height="528.7" fill="url(#cmr0g)"/></mask>
<clipPath id="ccp"><rect x="132.2" y="1281.2" width="656.8" height="526.7"/></clipPath>
<mask id="clm0" maskUnits="userSpaceOnUse" x="127.2" y="1276.2" width="666.8" height="536.7"><rect x="127.2" y="1276.2" width="666.8" height="536.7" fill="#fff"/><rect x="-32.5" y="-12" width="65" height="24" transform="translate(687 1789) scale(1 1.04) rotate(0)" fill="#000"/></mask>
<mask id="clm1" maskUnits="userSpaceOnUse" x="127.2" y="1276.2" width="666.8" height="536.7"><rect x="127.2" y="1276.2" width="666.8" height="536.7" fill="#fff"/><rect x="-32.5" y="-12" width="65" height="24" transform="translate(653.7 1632.6) scale(1 1.04) rotate(0)" fill="#000"/></mask>
<mask id="clm2" maskUnits="userSpaceOnUse" x="127.2" y="1276.2" width="666.8" height="536.7"><rect x="127.2" y="1276.2" width="666.8" height="536.7" fill="#fff"/><rect x="-32.5" y="-12" width="65" height="24" transform="translate(637.5 1484) scale(1 1.04) rotate(0)" fill="#000"/></mask>
<mask id="clm3" maskUnits="userSpaceOnUse" x="127.2" y="1276.2" width="666.8" height="536.7"><rect x="127.2" y="1276.2" width="666.8" height="536.7" fill="#fff"/><rect x="-32.5" y="-12" width="65" height="24" transform="translate(670 1348.5) scale(1 1.04) rotate(0)" fill="#000"/></mask>
</defs>
<g filter="url(#rb)">
<rect x="128" y="7.2" width="662" height="535" fill="url(#ac)"/>
<rect x="128" y="7.2" width="84.87" height="535" fill="url(#al4)" mask="url(#aml4)"/>
<rect x="128" y="7.2" width="67.9" height="535" fill="url(#al3)" mask="url(#aml3)"/>
<rect x="128" y="7.2" width="50.92" height="535" fill="url(#al2)" mask="url(#aml2)"/>
<rect x="128" y="7.2" width="33.95" height="535" fill="url(#al1)" mask="url(#aml1)"/>
<rect x="128" y="7.2" width="16.97" height="535" fill="url(#al0)" mask="url(#aml0)"/>
<rect x="705.13" y="7.2" width="84.87" height="535" fill="url(#ar4)" mask="url(#amr4)"/>
<rect x="722.1" y="7.2" width="67.9" height="535" fill="url(#ar3)" mask="url(#amr3)"/>
<rect x="739.08" y="7.2" width="50.92" height="535" fill="url(#ar2)" mask="url(#amr2)"/>
<rect x="756.05" y="7.2" width="33.95" height="535" fill="url(#ar1)" mask="url(#amr1)"/>
<rect x="773.03" y="7.2" width="16.97" height="535" fill="url(#ar0)" mask="url(#amr0)"/>
</g>
<g clip-path="url(#acp)">
<path d="M764.65 7.2 L756.05 61.49 L751.16 66.64 L739.08 78.98 L722.1 81.84 L705.13 82.5 L688.15 82.5 L671.18 82.5 L654.21 82.5 L637.23 82.5 L620.26 82.5 L603.28 82.5 L586.31 82.5 L569.33 82.5 L552.36 82.5 L535.38 82.5 L518.41 82.5 L501.44 82.5 L484.46 82.5 L467.49 82.5 L450.51 82.5 L433.54 82.5 L416.56 82.5 L399.59 82.5 L382.62 82.5 L365.64 82.5 L348.67 82.5 L331.69 82.5 L314.72 82.5 L297.74 82.5 L280.77 82.5 L263.79 82.5 L246.82 82.5 L229.85 82.5 L212.87 82.5 L195.9 81.84 L178.92 78.98 L166.84 66.64 L161.95 61.49 L151.17 7.2" stroke="#414487" fill="none" stroke-width="3.0" stroke-linejoin="round" mask="url(#alm0)"/>
<path d="M779.88 7.2 L777.98 66.64 L775.86 126.09 L773.51 185.53 L773.03 197.12 L763.66 244.98 L756.05 278.52 L739.08 289.52 L722.1 292.34 L705.13 292.5 L688.15 292.5 L671.18 292.5 L654.21 292.5 L637.23 292.5 L620.26 292.5 L603.28 292.5 L586.31 292.5 L569.33 292.5 L552.36 292.5 L535.38 292.5 L518.41 292.5 L501.44 292.5 L484.46 292.5 L467.49 292.5 L450.51 292.5 L433.54 292.5 L416.56 292.5 L399.59 292.5 L382.62 292.5 L365.64 292.5 L348.67 292.5 L331.69 292.5 L314.72 292.5 L297.74 292.5 L280.77 292.5 L263.79 292.5 L246.82 292.5 L229.85 292.5 L212.87 292.5 L195.9 292.34 L178.92 289.52 L161.95 278.52 L153.38 244.98 L144.97 208.87 L143.91 185.53 L141.36 126.09 L139.08 66.64 L137.04 7.2" stroke="#2a788e" fill="none" stroke-width="3.0" stroke-linejoin="round" mask="url(#alm1)"/>
<path d="M788.94 7.2 L787.45 66.64 L785.79 126.09 L783.95 185.53 L781.93 244.98 L779.67 304.42 L777.09 363.87 L774.21 423.31 L773.03 444.24 L758.84 482.76 L756.05 489.67 L739.08 495.47 L722.1 496.48 L705.13 496.5 L688.15 496.5 L671.18 496.5 L654.21 496.5 L637.23 496.5 L620.26 496.5 L603.28 496.5 L586.31 496.5 L569.33 496.5 L552.36 496.5 L535.38 496.5 L518.41 496.5 L501.44 496.5 L484.46 496.5 L467.49 496.5 L450.51 496.5 L433.54 496.5 L416.56 496.5 L399.59 496.5 L382.62 496.5 L365.64 496.5 L348.67 496.5 L331.69 496.5 L314.72 496.5 L297.74 496.5 L280.77 496.5 L263.79 496.5 L246.82 496.5 L229.85 496.5 L212.87 496.5 L195.9 496.48 L178.92 495.47 L161.95 489.67 L159.14 482.76 L144.97 445.4 L143.61 423.31 L140.45 363.87 L137.63 304.42 L135.19 244.98 L133.02 185.53 L131.07 126.09 L129.33 66.64 L128 15.91" stroke="#22a884" fill="none" stroke-width="3.0" stroke-linejoin="round" mask="url(#alm2)"/>
<path d="M135.79 542.2 L132.49 482.76 L129.78 423.31 L128 378.39M790 344.11 L789.33 363.87 L787.17 423.31 L784.66 482.76 L781.62 542.2" stroke="#7ad151" fill="none" stroke-width="3.0" stroke-linejoin="round" mask="url(#alm3)"/>
<text transform="translate(602.5 82.5) scale(1 1.04) rotate(0) scale(1 1.08)" y="7.77" font-size="21.3" text-anchor="middle" fill="#000">0.5505</text>
<text transform="translate(138.5 243.8) scale(1 1.04) rotate(90) scale(1 1.08)" y="7.77" font-size="21.3" text-anchor="middle" fill="#000">0.5535</text>
<text transform="translate(134.5 422.5) scale(1 1.04) rotate(90) scale(1 1.08)" y="7.77" font-size="21.3" text-anchor="middle" fill="#000">0.5550</text>
<text transform="translate(770 187) scale(1 1.04) rotate(-90) scale(1 1.08)" y="7.77" font-size="21.3" text-anchor="middle" fill="#000">0.5520</text>
<text transform="translate(783.6 425) scale(1 1.04) rotate(-90) scale(1 1.08)" y="7.77" font-size="21.3" text-anchor="middle" fill="#000">0.5550</text>
</g>
<rect x="128" y="7.2" width="662" height="535" fill="none" stroke="#111" stroke-width="1.8"/>
<path d="M128 542.2v7.5M144.97 542.2v7.5M161.95 542.2v7.5M178.92 542.2v7.5M195.9 542.2v7.5M212.87 542.2v7.5M229.85 542.2v7.5M246.82 542.2v7.5M263.79 542.2v7.5M280.77 542.2v7.5M297.74 542.2v7.5M314.72 542.2v7.5M331.69 542.2v7.5M348.67 542.2v7.5M365.64 542.2v7.5M382.62 542.2v7.5M399.59 542.2v7.5M416.56 542.2v7.5M433.54 542.2v7.5M450.51 542.2v7.5M467.49 542.2v7.5M484.46 542.2v7.5M501.44 542.2v7.5M518.41 542.2v7.5M535.38 542.2v7.5M552.36 542.2v7.5M569.33 542.2v7.5M586.31 542.2v7.5M603.28 542.2v7.5M620.26 542.2v7.5M637.23 542.2v7.5M654.21 542.2v7.5M671.18 542.2v7.5M688.15 542.2v7.5M705.13 542.2v7.5M722.1 542.2v7.5M739.08 542.2v7.5M756.05 542.2v7.5M773.03 542.2v7.5M790 542.2v7.5M128 7.2h-7.5M128 66.64h-7.5M128 126.09h-7.5M128 185.53h-7.5M128 244.98h-7.5M128 304.42h-7.5M128 363.87h-7.5M128 423.31h-7.5M128 482.76h-7.5M128 542.2h-7.5" stroke="#111" stroke-width="1.8" fill="none"/>
<rect x="863.5" y="7.2" width="24.7" height="535" fill="url(#cbg)" filter="url(#rb)"/>
<rect x="863.5" y="7.2" width="24.7" height="535" fill="none" stroke="#222" stroke-width="1.6"/>
<text transform="translate(902.9 118.3) scale(1 1.13)" font-size="21.1">0.555</text>
<text transform="translate(902.9 195.5) scale(1 1.13)" font-size="21.1">0.554</text>
<text transform="translate(902.9 272.8) scale(1 1.13)" font-size="21.1">0.553</text>
<text transform="translate(902.9 350) scale(1 1.13)" font-size="21.1">0.552</text>
<text transform="translate(902.9 427.3) scale(1 1.13)" font-size="21.1">0.551</text>
<text transform="translate(902.9 504.5) scale(1 1.13)" font-size="21.1">0.550</text>
<path d="M888.2 110h7.5M888.2 187.2h7.5M888.2 264.5h7.5M888.2 341.7h7.5M888.2 419h7.5M888.2 496.2h7.5" stroke="#111" stroke-width="1.8" fill="none"/>
<text transform="translate(2.5 36.5) scale(1 1.07)" font-size="38.5">a<tspan font-size="41" dx="1.6" dy="2.3">)</tspan></text>
<text font-size="21.3" text-anchor="end" transform="translate(110 11.4) scale(1 1.04) rotate(-45) scale(1 1.08)">Outlet</text>
<text font-size="21.3" text-anchor="end" transform="translate(110 548) scale(1 1.04) rotate(-45) scale(1 1.08)">Inlet</text>
<text font-size="21.3" text-anchor="end" transform="translate(160 572) scale(1 1.04) rotate(-45) scale(1 1.08)">#1</text>
<text font-size="21.3" text-anchor="end" transform="translate(826 571.2) scale(1 1.04) rotate(-45) scale(1 1.08)">#40</text>
<text x="434.7" y="580.6" font-size="24.3" text-anchor="middle">Stacking Coordinate</text>
<text transform="translate(992.8 350) scale(1 1.04) rotate(-90) scale(1 1.04)" font-size="22.1"><tspan font-style="italic">η</tspan><tspan dy="-8.7" font-size="15.4">a</tspan><tspan dy="8.7"> in V</tspan></text>
<g filter="url(#rb)">
<rect x="136.6" y="654.4" width="654.4" height="519.1" fill="url(#bc)"/>
<rect x="136.6" y="654.4" width="83.9" height="519.1" fill="url(#bl4)" mask="url(#bml4)"/>
<rect x="136.6" y="654.4" width="67.12" height="519.1" fill="url(#bl3)" mask="url(#bml3)"/>
<rect x="136.6" y="654.4" width="50.34" height="519.1" fill="url(#bl2)" mask="url(#bml2)"/>
<rect x="136.6" y="654.4" width="33.56" height="519.1" fill="url(#bl1)" mask="url(#bml1)"/>
<rect x="136.6" y="654.4" width="16.78" height="519.1" fill="url(#bl0)" mask="url(#bml0)"/>
<rect x="707.1" y="654.4" width="83.9" height="519.1" fill="url(#br4)" mask="url(#bmr4)"/>
<rect x="723.88" y="654.4" width="67.12" height="519.1" fill="url(#br3)" mask="url(#bmr3)"/>
<rect x="740.66" y="654.4" width="50.34" height="519.1" fill="url(#br2)" mask="url(#bmr2)"/>
<rect x="757.44" y="654.4" width="33.56" height="519.1" fill="url(#br1)" mask="url(#bmr1)"/>
<rect x="774.22" y="654.4" width="16.78" height="519.1" fill="url(#br0)" mask="url(#bmr0)"/>
</g>
<g clip-path="url(#bcp)">
<path d="M162.96 1173.5 L170.16 1151.66 L186.94 1141.63 L203.72 1140.3 L220.5 1140.3 L237.28 1140.3 L254.06 1140.3 L270.84 1140.3 L287.62 1140.3 L304.39 1140.3 L321.17 1140.3 L337.95 1140.3 L354.73 1140.3 L371.51 1140.3 L388.29 1140.3 L405.07 1140.3 L421.85 1140.3 L438.63 1140.3 L455.41 1140.3 L472.19 1140.3 L488.97 1140.3 L505.75 1140.3 L522.53 1140.3 L539.31 1140.3 L556.09 1140.3 L572.87 1140.3 L589.65 1140.3 L606.43 1140.3 L623.21 1140.3 L639.98 1140.3 L656.76 1140.3 L673.54 1140.3 L690.32 1140.3 L707.1 1140.3 L723.88 1140.3 L740.66 1141.63 L757.44 1151.66 L762.95 1173.5" stroke="#46327e" fill="none" stroke-width="3.0" stroke-linejoin="round" mask="url(#blm0)"/>
<path d="M148.6 1173.5 L152.63 1115.82 L153.38 1106.74 L170.16 1059.85 L173.17 1058.14 L186.94 1049.69 L203.72 1048.4 L220.5 1048.4 L237.28 1048.4 L254.06 1048.4 L270.84 1048.4 L287.62 1048.4 L304.39 1048.4 L321.17 1048.4 L337.95 1048.4 L354.73 1048.4 L371.51 1048.4 L388.29 1048.4 L405.07 1048.4 L421.85 1048.4 L438.63 1048.4 L455.41 1048.4 L472.19 1048.4 L488.97 1048.4 L505.75 1048.4 L522.53 1048.4 L539.31 1048.4 L556.09 1048.4 L572.87 1048.4 L589.65 1048.4 L606.43 1048.4 L623.21 1048.4 L639.98 1048.4 L656.76 1048.4 L673.54 1048.4 L690.32 1048.4 L707.1 1048.4 L723.88 1048.4 L740.66 1049.69 L754.43 1058.14 L757.44 1059.85 L772.45 1115.82 L774.22 1122.88 L777.68 1173.5" stroke="#365c8d" fill="none" stroke-width="3.0" stroke-linejoin="round" mask="url(#blm1)"/>
<path d="M141.64 1173.5 L144.22 1115.82 L148.28 1058.14 L153.21 1000.47 L153.38 998.7 L170.16 958.69 L186.94 950.46 L203.72 949.3 L220.5 949.3 L237.28 949.3 L254.06 949.3 L270.84 949.3 L287.62 949.3 L304.39 949.3 L321.17 949.3 L337.95 949.3 L354.73 949.3 L371.51 949.3 L388.29 949.3 L405.07 949.3 L421.85 949.3 L438.63 949.3 L455.41 949.3 L472.19 949.3 L488.97 949.3 L505.75 949.3 L522.53 949.3 L539.31 949.3 L556.09 949.3 L572.87 949.3 L589.65 949.3 L606.43 949.3 L623.21 949.3 L639.98 949.3 L656.76 949.3 L673.54 949.3 L690.32 949.3 L707.1 949.3 L723.88 949.3 L740.66 950.46 L757.44 958.69 L770.68 1000.47 L774.22 1013.38 L777.67 1058.14 L781.9 1115.82 L784.38 1173.5" stroke="#277f8e" fill="none" stroke-width="3.0" stroke-linejoin="round" mask="url(#blm2)"/>
<path d="M136.6 1097.24 L138.53 1058.14 L142.55 1000.47 L147.37 942.79 L153.38 885.29 L153.47 885.11 L170.16 856.71 L186.94 852.01 L203.72 851.4 L220.5 851.4 L237.28 851.4 L254.06 851.4 L270.84 851.4 L287.62 851.4 L304.39 851.4 L321.17 851.4 L337.95 851.4 L354.73 851.4 L371.51 851.4 L388.29 851.4 L405.07 851.4 L421.85 851.4 L438.63 851.4 L455.41 851.4 L472.19 851.4 L488.97 851.4 L505.75 851.4 L522.53 851.4 L539.31 851.4 L556.09 851.4 L572.87 851.4 L589.65 851.4 L606.43 851.4 L623.21 851.4 L639.98 851.4 L656.76 851.4 L673.54 851.4 L690.32 851.4 L707.1 851.4 L723.88 851.4 L740.66 852.01 L757.44 856.71 L770.19 885.11 L774.22 895.49 L778.76 942.79 L783.15 1000.47 L786.75 1058.14 L790.17 1115.82 L791 1167.76" stroke="#1fa187" fill="none" stroke-width="3.0" stroke-linejoin="round" mask="url(#blm3)"/>
<path d="M136.6 931.27 L140.87 885.11 L146.96 827.43 L153.38 772.92 L156.36 769.76 L170.16 757.08 L186.94 756.01 L203.72 755.8 L220.5 755.8 L237.28 755.8 L254.06 755.8 L270.84 755.8 L287.62 755.8 L304.39 755.8 L321.17 755.8 L337.95 755.8 L354.73 755.8 L371.51 755.8 L388.29 755.8 L405.07 755.8 L421.85 755.8 L438.63 755.8 L455.41 755.8 L472.19 755.8 L488.97 755.8 L505.75 755.8 L522.53 755.8 L539.31 755.8 L556.09 755.8 L572.87 755.8 L589.65 755.8 L606.43 755.8 L623.21 755.8 L639.98 755.8 L656.76 755.8 L673.54 755.8 L690.32 755.8 L707.1 755.8 L723.88 755.8 L740.66 756.01 L757.44 757.08 L768.24 769.76 L774.22 778.21 L780.48 827.43 L785.89 885.11 L789.97 942.79 L791 959.89" stroke="#4ac16d" fill="none" stroke-width="3.0" stroke-linejoin="round" mask="url(#blm4)"/>
<path d="M136.6 772.26 L136.76 769.76 L143.8 712.08 L153.38 663.31 L170.16 659.54 L186.94 661.7 L203.72 662.5 L220.5 662.5 L237.28 662.5 L254.06 662.5 L270.84 662.5 L287.62 662.5 L304.39 662.5 L321.17 662.5 L337.95 662.5 L354.73 662.5 L371.51 662.5 L388.29 662.5 L405.07 662.5 L421.85 662.5 L438.63 662.5 L455.41 662.5 L472.19 662.5 L488.97 662.5 L505.75 662.5 L522.53 662.5 L539.31 662.5 L556.09 662.5 L572.87 662.5 L589.65 662.5 L606.43 662.5 L623.21 662.5 L639.98 662.5 L656.76 662.5 L673.54 662.5 L690.32 662.5 L707.1 662.5 L723.88 662.5 L740.66 661.7 L757.44 659.54 L774.22 663.56 L783.26 712.08 L790.39 769.76 L791 776.04" stroke="#a0da39" fill="none" stroke-width="3.0" stroke-linejoin="round" mask="url(#blm5)"/>
<text transform="translate(337.2 661) scale(1 1.04) rotate(0) scale(1 1.08)" y="7.77" font-size="21.3" text-anchor="middle" fill="#000">0.208</text>
<text transform="translate(220 1139) scale(1 1.04) rotate(0) scale(1 1.08)" y="7.77" font-size="21.3" text-anchor="middle" fill="#000">0.198</text>
<text transform="translate(771.5 768.5) scale(1 1.04) rotate(51) scale(1 1.08)" y="7.77" font-size="21.3" text-anchor="middle" fill="#000">0.206</text>
<text transform="translate(758 855) scale(1 1.04) rotate(33) scale(1 1.08)" y="7.77" font-size="21.3" text-anchor="middle" fill="#000">0.204</text>
<text transform="translate(778 1003) scale(1 1.04) rotate(72) scale(1 1.08)" y="7.77" font-size="21.3" text-anchor="middle" fill="#000">0.202</text>
<text transform="translate(779 1114) scale(1 1.04) rotate(76) scale(1 1.08)" y="7.77" font-size="21.3" text-anchor="middle" fill="#000">0.200</text>
</g>
<rect x="136.6" y="654.4" width="654.4" height="519.1" fill="none" stroke="#111" stroke-width="1.8"/>
<path d="M136.6 1173.5v7.5M153.38 1173.5v7.5M170.16 1173.5v7.5M186.94 1173.5v7.5M203.72 1173.5v7.5M220.5 1173.5v7.5M237.28 1173.5v7.5M254.06 1173.5v7.5M270.84 1173.5v7.5M287.62 1173.5v7.5M304.39 1173.5v7.5M321.17 1173.5v7.5M337.95 1173.5v7.5M354.73 1173.5v7.5M371.51 1173.5v7.5M388.29 1173.5v7.5M405.07 1173.5v7.5M421.85 1173.5v7.5M438.63 1173.5v7.5M455.41 1173.5v7.5M472.19 1173.5v7.5M488.97 1173.5v7.5M505.75 1173.5v7.5M522.53 1173.5v7.5M539.31 1173.5v7.5M556.09 1173.5v7.5M572.87 1173.5v7.5M589.65 1173.5v7.5M606.43 1173.5v7.5M623.21 1173.5v7.5M639.98 1173.5v7.5M656.76 1173.5v7.5M673.54 1173.5v7.5M690.32 1173.5v7.5M707.1 1173.5v7.5M723.88 1173.5v7.5M740.66 1173.5v7.5M757.44 1173.5v7.5M774.22 1173.5v7.5M791 1173.5v7.5M136.6 654.4h-7.5M136.6 712.08h-7.5M136.6 769.76h-7.5M136.6 827.43h-7.5M136.6 885.11h-7.5M136.6 942.79h-7.5M136.6 1000.47h-7.5M136.6 1058.14h-7.5M136.6 1115.82h-7.5M136.6 1173.5h-7.5" stroke="#111" stroke-width="1.8" fill="none"/>
<rect x="863.3" y="654.4" width="25.1" height="519.1" fill="url(#cbg)" filter="url(#rb)"/>
<rect x="863.3" y="654.4" width="25.1" height="519.1" fill="none" stroke="#222" stroke-width="1.6"/>
<text transform="translate(903.1 733.8) scale(1 1.13)" font-size="21.1">0.208</text>
<text transform="translate(903.1 815.4) scale(1 1.13)" font-size="21.1">0.206</text>
<text transform="translate(903.1 897) scale(1 1.13)" font-size="21.1">0.204</text>
<text transform="translate(903.1 978.7) scale(1 1.13)" font-size="21.1">0.202</text>
<text transform="translate(903.1 1060.3) scale(1 1.13)" font-size="21.1">0.200</text>
<text transform="translate(903.1 1142) scale(1 1.13)" font-size="21.1">0.198</text>
<path d="M888.4 725.5h7.5M888.4 807.1h7.5M888.4 888.7h7.5M888.4 970.4h7.5M888.4 1052h7.5M888.4 1133.7h7.5" stroke="#111" stroke-width="1.8" fill="none"/>
<text transform="translate(14.8 654.2) scale(1 1.07)" font-size="38.5">b<tspan font-size="41" dx="1.6" dy="2.3">)</tspan></text>
<text font-size="21.3" text-anchor="end" transform="translate(118.6 658.6) scale(1 1.04) rotate(-45) scale(1 1.08)">Outlet</text>
<text font-size="21.3" text-anchor="end" transform="translate(118.6 1179.3) scale(1 1.04) rotate(-45) scale(1 1.08)">Inlet</text>
<text font-size="21.3" text-anchor="end" transform="translate(168.6 1203.3) scale(1 1.04) rotate(-45) scale(1 1.08)">#1</text>
<text font-size="21.3" text-anchor="end" transform="translate(827 1202.5) scale(1 1.04) rotate(-45) scale(1 1.08)">#40</text>
<text x="463.5" y="1211.6" font-size="24.3" text-anchor="middle">Stacking Coordinate</text>
<text transform="translate(986.1 963.5) scale(1 1.04) rotate(-90) scale(1 1.04)" font-size="22.1"><tspan font-style="italic">η</tspan><tspan dy="-8.7" font-size="15.4">ohm</tspan><tspan dy="8.7"> in V</tspan></text>
<g filter="url(#rb)">
<rect x="132.2" y="1281.2" width="656.8" height="526.7" fill="url(#cc)"/>
<rect x="132.2" y="1281.2" width="84.21" height="526.7" fill="url(#cl4)" mask="url(#cml4)"/>
<rect x="132.2" y="1281.2" width="67.36" height="526.7" fill="url(#cl3)" mask="url(#cml3)"/>
<rect x="132.2" y="1281.2" width="50.52" height="526.7" fill="url(#cl2)" mask="url(#cml2)"/>
<rect x="132.2" y="1281.2" width="33.68" height="526.7" fill="url(#cl1)" mask="url(#cml1)"/>
<rect x="132.2" y="1281.2" width="16.84" height="526.7" fill="url(#cl0)" mask="url(#cml0)"/>
<rect x="704.79" y="1281.2" width="84.21" height="526.7" fill="url(#cr4)" mask="url(#cmr4)"/>
<rect x="721.64" y="1281.2" width="67.36" height="526.7" fill="url(#cr3)" mask="url(#cmr3)"/>
<rect x="738.48" y="1281.2" width="50.52" height="526.7" fill="url(#cr2)" mask="url(#cmr2)"/>
<rect x="755.32" y="1281.2" width="33.68" height="526.7" fill="url(#cr1)" mask="url(#cmr1)"/>
<rect x="772.16" y="1281.2" width="16.84" height="526.7" fill="url(#cr0)" mask="url(#cmr0)"/>
</g>
<g clip-path="url(#ccp)">
<path d="M143.59 1807.9 L149.04 1799.96 L165.88 1790.87 L182.72 1789.23 L199.56 1788.99 L216.41 1789 L233.25 1789 L250.09 1789 L266.93 1789 L283.77 1789 L300.61 1789 L317.45 1789 L334.29 1789 L351.13 1789 L367.97 1789 L384.82 1789 L401.66 1789 L418.5 1789 L435.34 1789 L452.18 1789 L469.02 1789 L485.86 1789 L502.7 1789 L519.54 1789 L536.38 1789 L553.23 1789 L570.07 1789 L586.91 1789 L603.75 1789 L620.59 1789 L637.43 1789 L654.27 1789 L671.11 1789 L687.95 1789 L704.79 1789 L721.64 1788.99 L738.48 1789.23 L755.32 1790.87 L772.16 1800.57 L777.3 1807.9" stroke="#414487" fill="none" stroke-width="3.0" stroke-linejoin="round" mask="url(#clm0)"/>
<path d="M132.2 1529.63 L137.7 1573.81 L149.04 1626.8 L165.88 1632.09 L174.01 1632.33 L182.72 1632.6 L199.56 1632.47 L216.41 1632.6 L233.25 1632.6 L250.09 1632.6 L266.93 1632.6 L283.77 1632.6 L300.61 1632.6 L317.45 1632.6 L334.29 1632.6 L351.13 1632.6 L367.97 1632.6 L384.82 1632.6 L401.66 1632.6 L418.5 1632.6 L435.34 1632.6 L452.18 1632.6 L469.02 1632.6 L485.86 1632.6 L502.7 1632.6 L519.54 1632.6 L536.38 1632.6 L553.23 1632.6 L570.07 1632.6 L586.91 1632.6 L603.75 1632.6 L620.59 1632.6 L637.43 1632.6 L654.27 1632.6 L671.11 1632.6 L687.95 1632.6 L704.79 1632.6 L721.64 1632.47 L738.48 1632.6 L747.19 1632.33 L755.32 1632.09 L772.16 1626.46 L783.45 1573.81 L789 1529.63" stroke="#2a788e" fill="none" stroke-width="3.0" stroke-linejoin="round" mask="url(#clm1)"/>
<path d="M133.99 1281.2 L136.7 1339.72 L141.39 1398.24 L148.85 1456.77 L149.04 1458.1 L165.88 1479.37 L182.72 1483.49 L199.56 1483.78 L216.41 1484 L233.25 1484 L250.09 1484 L266.93 1484 L283.77 1484 L300.61 1484 L317.45 1484 L334.29 1484 L351.13 1484 L367.97 1484 L384.82 1484 L401.66 1484 L418.5 1484 L435.34 1484 L452.18 1484 L469.02 1484 L485.86 1484 L502.7 1484 L519.54 1484 L536.38 1484 L553.23 1484 L570.07 1484 L586.91 1484 L603.75 1484 L620.59 1484 L637.43 1484 L654.27 1484 L671.11 1484 L687.95 1484 L704.79 1484 L721.64 1483.78 L738.48 1483.49 L755.32 1479.37 L772.06 1456.77 L772.16 1456.62 L779.67 1398.24 L784.43 1339.72 L787.18 1281.2" stroke="#22a884" fill="none" stroke-width="3.0" stroke-linejoin="round" mask="url(#clm2)"/>
<path d="M147.19 1281.2 L149.04 1301.77 L165.88 1338.81 L167.84 1339.72 L182.72 1346.66 L199.56 1348.2 L216.41 1348.5 L233.25 1348.5 L250.09 1348.5 L266.93 1348.5 L283.77 1348.5 L300.61 1348.5 L317.45 1348.5 L334.29 1348.5 L351.13 1348.5 L367.97 1348.5 L384.82 1348.5 L401.66 1348.5 L418.5 1348.5 L435.34 1348.5 L452.18 1348.5 L469.02 1348.5 L485.86 1348.5 L502.7 1348.5 L519.54 1348.5 L536.38 1348.5 L553.23 1348.5 L570.07 1348.5 L586.91 1348.5 L603.75 1348.5 L620.59 1348.5 L637.43 1348.5 L654.27 1348.5 L671.11 1348.5 L687.95 1348.5 L704.79 1348.5 L721.64 1348.2 L738.48 1346.66 L753.36 1339.72 L755.32 1338.81 L772.16 1299.23 L773.79 1281.2" stroke="#7ad151" fill="none" stroke-width="3.0" stroke-linejoin="round" mask="url(#clm3)"/>
<text transform="translate(670 1348.5) scale(1 1.04) rotate(0) scale(1 1.08)" y="7.77" font-size="21.3" text-anchor="middle" fill="#000">16.2</text>
<text transform="translate(637.5 1484) scale(1 1.04) rotate(0) scale(1 1.08)" y="7.77" font-size="21.3" text-anchor="middle" fill="#000">15.6</text>
<text transform="translate(653.7 1632.6) scale(1 1.04) rotate(0) scale(1 1.08)" y="7.77" font-size="21.3" text-anchor="middle" fill="#000">15.0</text>
<text transform="translate(687 1789) scale(1 1.04) rotate(0) scale(1 1.08)" y="7.77" font-size="21.3" text-anchor="middle" fill="#000">14.4</text>
</g>
<rect x="132.2" y="1281.2" width="656.8" height="526.7" fill="none" stroke="#111" stroke-width="1.8"/>
<path d="M132.2 1807.9v7.5M149.04 1807.9v7.5M165.88 1807.9v7.5M182.72 1807.9v7.5M199.56 1807.9v7.5M216.41 1807.9v7.5M233.25 1807.9v7.5M250.09 1807.9v7.5M266.93 1807.9v7.5M283.77 1807.9v7.5M300.61 1807.9v7.5M317.45 1807.9v7.5M334.29 1807.9v7.5M351.13 1807.9v7.5M367.97 1807.9v7.5M384.82 1807.9v7.5M401.66 1807.9v7.5M418.5 1807.9v7.5M435.34 1807.9v7.5M452.18 1807.9v7.5M469.02 1807.9v7.5M485.86 1807.9v7.5M502.7 1807.9v7.5M519.54 1807.9v7.5M536.38 1807.9v7.5M553.23 1807.9v7.5M570.07 1807.9v7.5M586.91 1807.9v7.5M603.75 1807.9v7.5M620.59 1807.9v7.5M637.43 1807.9v7.5M654.27 1807.9v7.5M671.11 1807.9v7.5M687.95 1807.9v7.5M704.79 1807.9v7.5M721.64 1807.9v7.5M738.48 1807.9v7.5M755.32 1807.9v7.5M772.16 1807.9v7.5M789 1807.9v7.5M132.2 1281.2h-7.5M132.2 1339.72h-7.5M132.2 1398.24h-7.5M132.2 1456.77h-7.5M132.2 1515.29h-7.5M132.2 1573.81h-7.5M132.2 1632.33h-7.5M132.2 1690.86h-7.5M132.2 1749.38h-7.5M132.2 1807.9h-7.5" stroke="#111" stroke-width="1.8" fill="none"/>
<rect x="860.8" y="1281.2" width="24.8" height="526.7" fill="url(#cbg)" filter="url(#rb)"/>
<rect x="860.8" y="1281.2" width="24.8" height="526.7" fill="none" stroke="#222" stroke-width="1.6"/>
<text transform="translate(900.3 1369.3) scale(1 1.13)" font-size="21.1">16.2</text>
<text transform="translate(900.3 1511.8) scale(1 1.13)" font-size="21.1">15.6</text>
<text transform="translate(900.3 1653.8) scale(1 1.13)" font-size="21.1">15.0</text>
<text transform="translate(900.3 1796.8) scale(1 1.13)" font-size="21.1">14.4</text>
<path d="M885.6 1361h7.5M885.6 1503.5h7.5M885.6 1645.5h7.5M885.6 1788.5h7.5" stroke="#111" stroke-width="1.8" fill="none"/>
<text transform="translate(12.6 1299.2) scale(1 1.07)" font-size="38.5">c<tspan font-size="41" dx="1.6" dy="2.3">)</tspan></text>
<text font-size="21.3" text-anchor="end" transform="translate(114.2 1285.4) scale(1 1.04) rotate(-45) scale(1 1.08)">Outlet</text>
<text font-size="21.3" text-anchor="end" transform="translate(114.2 1813.7) scale(1 1.04) rotate(-45) scale(1 1.08)">Inlet</text>
<text font-size="21.3" text-anchor="end" transform="translate(164.2 1837.7) scale(1 1.04) rotate(-45) scale(1 1.08)">#1</text>
<text font-size="21.3" text-anchor="end" transform="translate(825 1836.9) scale(1 1.04) rotate(-45) scale(1 1.08)">#40</text>
<text x="449" y="1846.2" font-size="24.3" text-anchor="middle">Stacking Coordinate</text>
<text transform="translate(981.3 1624) scale(1 1.04) rotate(-90) scale(1 1.04)" font-size="22.1"><tspan font-style="italic">η</tspan><tspan dy="-9.8" font-size="22">mt</tspan><tspan dy="9.8"> in mV</tspan></text>
</svg></body></html>
